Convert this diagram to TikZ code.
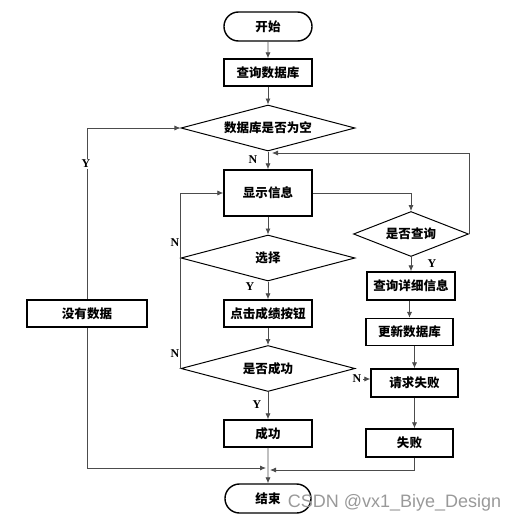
\documentclass[tikz,border=0pt]{standalone}
\usepackage{fontspec}
\setmainfont{Liberation Serif}
\newfontfamily\cjk{Noto Sans CJK SC}
\newfontfamily\marksans{Liberation Sans}
\usetikzlibrary{shapes.geometric,shapes.misc,arrows.meta}
\tikzset{box/.style={draw, line width=1pt, minimum width=2.2cm, minimum height=0.675cm,
         inner sep=0pt, font=\cjk\bfseries\fontsize{8.9}{10}\selectfont},
         term/.style={box, rounded rectangle, minimum height=0.725cm},
         test/.style={box, diamond, aspect=4, line width=0.7pt, minimum width=4.35cm, minimum height=1.15cm},
         arr/.style={-{Latex[length=1.5mm,width=1.3mm]}, draw=black!70, line width=0.6pt},
         yn/.style={font=\bfseries\fontsize{8.5}{9}\selectfont, inner sep=1pt}}

\begin{document}
\begin{tikzpicture}[x=0.025cm,y=-0.025cm]
  \useasboundingbox (0,0) rectangle (518,520);
  \node[term] (start) at (268,26.5) {开始};
  \node[box] (query) at (268,72.5) {查询数据库};
  \node[test] (empty) at (268,128) {数据库是否为空};
  \node[box, minimum height=1.15cm] (show) at (268,193) {显示信息};
  \node[test] (choose) at (268,258) {选择};
  \node[box] (click) at (268,313.5) {点击成绩按钮};
  \node[test] (succ) at (268,368.5) {是否成功};
  \node[box] (ok) at (268,433.5) {成功};
  \node[term, minimum width=2.15cm] (stop) at (268,498.5) {结束};
  \node[box, minimum width=3cm] (nodata) at (87,313.5) {没有数据};
  \node[test, minimum width=2.875cm, minimum height=1.125cm] (ask) at (411,234) {是否查询};
  \node[box, minimum height=0.7cm] (detail) at (411,286) {查询详细信息};
  \node[box, minimum width=2.175cm] (update) at (409.5,332) {更新数据库};
  \node[box, minimum width=2.175cm, minimum height=0.7cm] (reqfail) at (414.5,383) {请求失败};
  \node[box, minimum width=2.175cm, minimum height=0.7cm] (fail) at (409.5,443) {失败};

  \coordinate (back) at (272,153);
  \coordinate (jl) at (266,468);
  \coordinate (jr) at (270,470);

  \draw[arr] (start) -- (query);
  \draw[arr] (query) -- (empty);
  \draw[arr] (empty) -- (show);
  \draw[arr] (show) -- (choose);
  \draw[arr] (choose) -- (click);
  \draw[arr] (click) -- (succ);
  \draw[arr] (succ) -- (ok);
  \draw[arr] (ok) -- (stop);
  \draw[arr] (nodata) |- (empty.west);
  \draw[arr] (nodata) |- (jl);
  \draw[arr] (fail.south -| reqfail) |- (jr);
  \draw[arr] (show.east) -| (ask.north);
  \draw[arr] (ask.east) |- (back);
  \draw[arr] (ask) -- (detail);
  \draw[arr] (detail.south -| update) -- (update.north);
  \draw[arr] (update.south -| reqfail) -- (reqfail.north);
  \draw[arr] (reqfail) -- (reqfail.south |- fail.north);
  \draw[arr] (succ.west) |- (show.west);

  \node[yn] (nempty) at (253,160) {N};
  \node[yn, fill=white] (ynodata) at (86,164) {Y};
  \node[yn] (nchoose) at (175,243) {N};
  \node[yn] (nsuccl) at (175,354) {N};
  \node[yn] (ychoose) at (250,287) {Y};
  \node[yn] (ysucc) at (257,405) {Y};
  \node[yn] (yask) at (432,264) {Y};
  \node[yn] (nsucc) at (357,379) {N};
  \draw[arr] (nsucc.east) -- (reqfail.west |- nsucc);

  \node[anchor=base, text=black!40, font=\marksans\fontsize{12.8}{14}\selectfont]
    (mark) at (394.5,507) {CSDN @vx1\_Biye\_Design};
\end{tikzpicture}
\end{document}
